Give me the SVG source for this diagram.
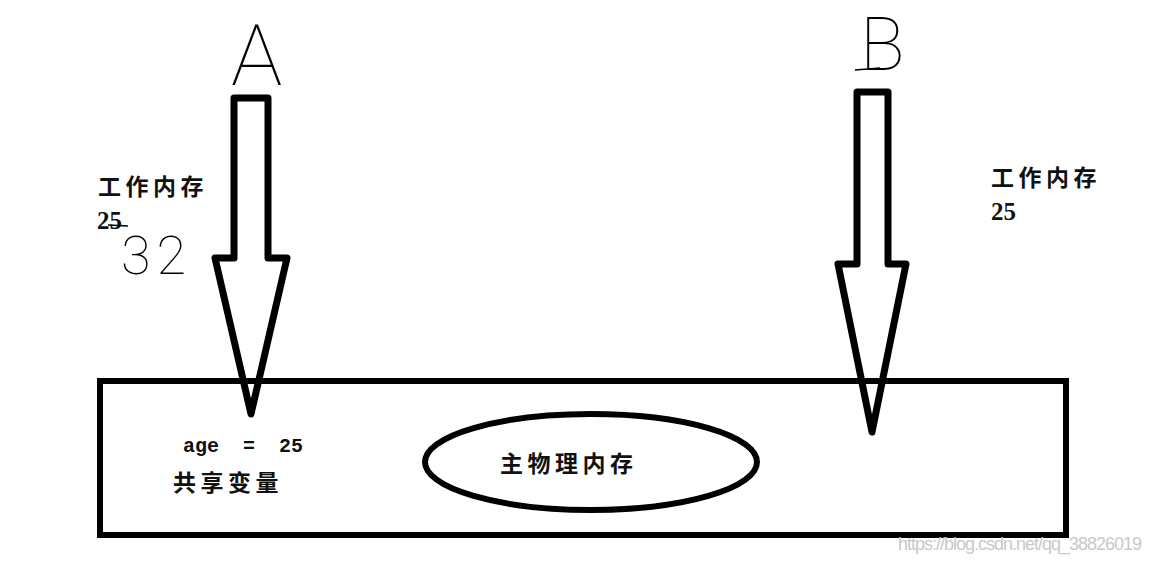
<svg xmlns="http://www.w3.org/2000/svg" width="1151" height="563" viewBox="0 0 1151 563">
<style>
.arrow{fill:none;stroke:#000;stroke-width:7;stroke-linejoin:round}
.box{fill:none;stroke:#000;stroke-width:6}
.cjk{font-family:"Noto Sans CJK SC","Noto Sans CJK TC",sans-serif;font-size:23px;font-weight:bold;fill:#111;letter-spacing:4.5px}
.num{font-family:"Liberation Serif",serif;font-size:25px;fill:#111;font-weight:bold}
.hand{font-family:"Roboto","Lato",sans-serif;font-weight:100;fill:#000}
.wm{font-family:"Liberation Sans",Arial,sans-serif;font-size:18px;fill:#c9c9c9}
</style>
<rect width="1151" height="563" fill="#fff"/>
<g id="memory">
<rect class="box" x="100" y="381" width="966" height="154"/>
<text class="cjk" x="173" y="491">共享变量</text>
<text x="183" y="452" font-family="Liberation Mono,monospace" font-size="20" font-weight="bold" fill="#111" xml:space="preserve">age  =  25</text>
</g>
<g id="main-memory">
<ellipse class="box" cx="591" cy="462" rx="166" ry="48"/>
<text class="cjk" x="500" y="472">主物理内存</text>
</g>
<g id="thread-A">
<text class="hand" x="231" y="85" font-size="86">A</text>
<text class="cjk" x="98" y="195">工作内存</text>
<text class="num" x="97" y="229">25</text>
<line x1="108" y1="225" x2="128" y2="226" stroke="#000" stroke-width="1.5"/>
<text class="hand" x="121" y="274" font-size="54" letter-spacing="6">32</text>
</g>
<g id="thread-B">
<text class="hand" x="860" y="70" font-size="74">B</text>
<line x1="855" y1="70" x2="880" y2="68" stroke="#000" stroke-width="1.5"/>
<text class="cjk" x="991" y="186">工作内存</text>
<text class="num" x="991" y="220">25</text>
</g>
<g id="connectors">
<polygon class="arrow" points="234,98 268,98 268,258 287,258 251,414 215,258 234,258"/>
<polygon class="arrow" points="857,92 888,92 888,264 906,264 872,432 838,264 857,264"/>
</g>
<text class="wm" x="898" y="550" textLength="244">https://blog.csdn.net/qq_38826019</text>
</svg>
